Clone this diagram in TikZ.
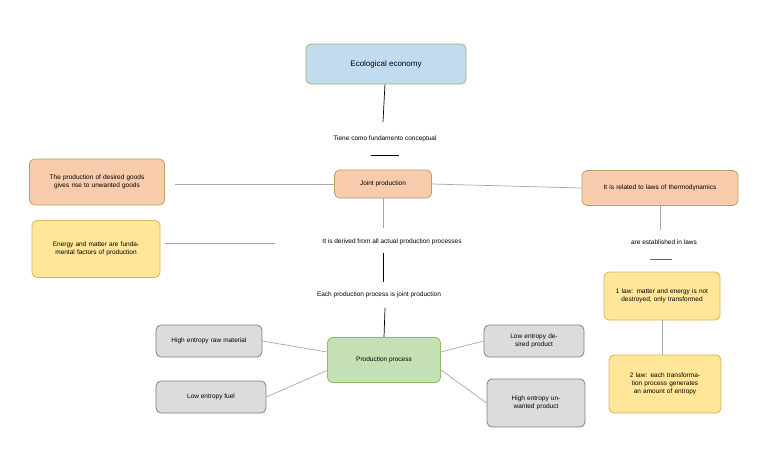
\documentclass[tikz,border=0pt]{standalone}
\usepackage{fontspec}
\setmainfont{Liberation Sans}
\begin{document}
\begin{tikzpicture}[x=1pt,y=-1pt,
 box/.style={draw=#1,rounded corners=5pt,line width=0.8pt,align=center,font=\fontsize{6.5}{8}\selectfont,inner sep=2pt},
 lbl/.style={font=\fontsize{6.5}{8}\selectfont,inner sep=1pt},
 con/.style={draw=gray!70,line width=0.7pt},
 blk/.style={draw=black,line width=0.7pt}]
\useasboundingbox (0,0) rectangle (768,466);
\definecolor{bl}{HTML}{C3DBEF}\definecolor{gb}{HTML}{8DBE6A}
\definecolor{or}{HTML}{F8CBAD}\definecolor{ye}{HTML}{FFE699}\definecolor{yb}{HTML}{D6B656}
\definecolor{gr}{HTML}{DCDCDC}\definecolor{gn}{HTML}{C5E0B4}\definecolor{ob}{HTML}{B5A26A}
\node[box=gb,fill=bl,minimum width=160,minimum height=40,font=\fontsize{8}{9}\selectfont] (eco) at (386,64) {Ecological economy};
\node[lbl] (t1) at (385,139) {Tiene como fundamento conceptual};
\coordinate (t1a) at (371,155); \coordinate (t1b) at (399,155);
\node[box=ob,fill=or,minimum width=97,minimum height=28] (jp) at (383,184) {Joint production};
\node[box=ob,fill=or,minimum width=135,minimum height=46,text width=125] (pd) at (97,182) {The production of desired goods gives rise to unwanted goods};
\node[box=ob,fill=or,minimum width=156,minimum height=35,text width=120] (th) at (660,188) {It is related to laws of thermodynamics};
\node[box=yb,fill=ye,minimum width=128,minimum height=57,text width=110] (em) at (96,249) {Energy and matter are fundamental factors of production};
\node[lbl] (der) at (392,242) {It is derived from all actual production processes};
\coordinate (emend) at (275,243);
\node[lbl] (each) at (379,295) {Each production process is joint production};
\node[lbl] (est) at (664,242) {are established in laws};
\coordinate (esta) at (650,259); \coordinate (estb) at (672,259);
\node[box=yb,fill=ye,minimum width=116,minimum height=48,text width=108] (l1) at (662,296) {1 law: matter and energy is not destroyed, only transformed};
\node[box=yb,fill=ye,minimum width=112,minimum height=58,text width=100] (l2) at (665,384) {2 law: each transformation process generates an amount of entropy};
\node[box=gb,fill=gn,minimum width=113,minimum height=45] (pp) at (384,360) {Production process};
\node[box=gray,fill=gr,minimum width=106,minimum height=32,text width=90] (hr) at (209,341) {High entropy raw material};
\node[box=gray,fill=gr,minimum width=110,minimum height=32] (lf) at (211,397) {Low entropy fuel};
\node[box=gray,fill=gr,minimum width=100,minimum height=32,text width=80] (ld) at (534,341) {Low entropy desired product};
\node[box=gray,fill=gr,minimum width=98,minimum height=48,text width=85] (hu) at (536,403) {High entropy unwanted product};
\draw[blk] (eco) -- (383,122);
\draw[blk] (t1a) -- (t1b);
\draw[con] (pd.east)++(10,2) -- (jp.west);
\draw[con] (jp.east) -- (th.west);
\draw[con] (em.east)++(5,-6) -- (emend);
\draw[con] (jp.south) -- (383,228);
\draw[blk] (383,253) -- (383,282);
\draw[blk] (385,308) -- (pp.north);
\draw[con] (th.south) -- (660,230);
\draw[draw=cyan!60!blue,line width=0.7pt] (esta) -- (estb);
\draw[con] (l1.south) -- (l2.north -| l1.south);
\draw[con] (hr.east) -- (pp.west|-352,352);
\draw[con] (lf.east) -- (328,370);
\draw[con] (441,352) -- (ld.west);
\draw[con] (441,370) -- (hu.west);
\end{tikzpicture}
\end{document}
